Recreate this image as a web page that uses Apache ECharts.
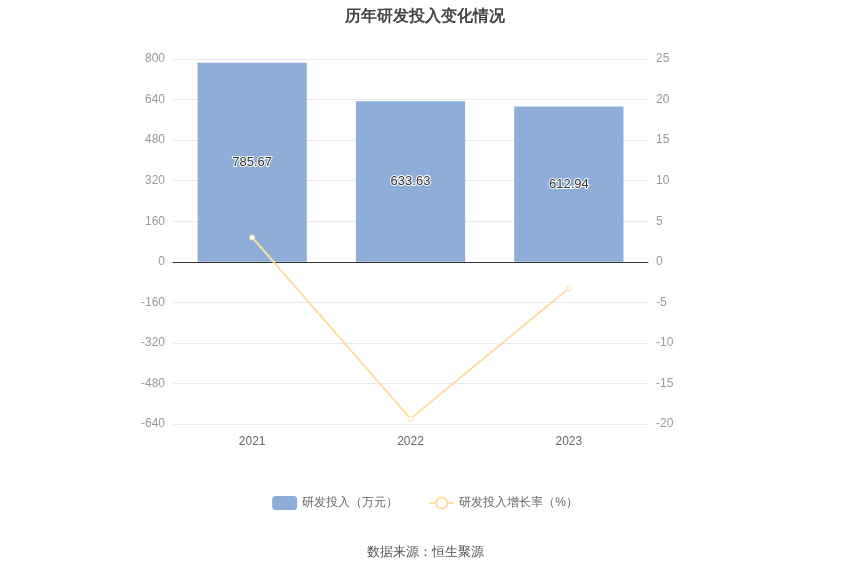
<!DOCTYPE html>
<html><head><meta charset="utf-8">
<script src="https://cdn.jsdelivr.net/npm/echarts@6/dist/echarts.min.js"></script>
<style>html,body{margin:0;padding:0}#c{width:850px;height:575px}</style>
</head><body><div id="c"></div>
<script>
const years = ['2021', '2022', '2023']
const rdSpend = [785.67, 633.63, 612.94]
const rdGrowth = [3.0, -19.35, -3.27]

const chart = echarts.init(document.getElementById('c'))
const axisLabel = { color: '#999', fontSize: 12 }
const splitLine = { lineStyle: { color: '#e8ebf2' } }
chart.setOption({
  animation: false,
  title: {
    text: '历年研发投入变化情况', left: 'center', top: 4,
    textStyle: { fontSize: 16, fontWeight: 'bold', color: '#444' },
  },
  grid: { left: 173, right: 202, top: 59, bottom: 151 },
  legend: {
    bottom: 60, itemGap: 30,
    textStyle: { color: '#666', fontSize: 12 },
    data: ['研发投入（万元）', '研发投入增长率（%）'],
  },
  graphic: [{
    type: 'text', left: 'center', top: 546,
    style: { text: '数据来源：恒生聚源', fill: '#555', fontSize: 13 },
  }],
  xAxis: {
    type: 'category', data: years,
    axisLine: { lineStyle: { color: '#333' } },
    axisTick: { lineStyle: { color: '#333' } },
    axisLabel: { color: '#666', fontSize: 12, margin: 12 },
    offset: -0,
  },
  yAxis: [
    { type: 'value', min: -640, max: 800, interval: 160, axisLabel, splitLine,
      axisLine: { show: false }, axisTick: { show: false } },
    { type: 'value', min: -20, max: 25, interval: 5, axisLabel, splitLine: { show: false },
      axisLine: { show: false }, axisTick: { show: false } },
  ],
  series: [
    { name: '研发投入（万元）', type: 'bar', data: rdSpend, barWidth: '69%',
      itemStyle: { color: '#8eadd9' },
      label: { show: true, position: 'inside', color: '#333', fontSize: 13,
        textBorderColor: '#fff', textBorderWidth: 2 } },
    { name: '研发投入增长率（%）', type: 'line', yAxisIndex: 1, data: rdGrowth,
      symbol: 'circle', symbolSize: 5,
      lineStyle: { color: '#fddfa4', width: 2 },
      itemStyle: { color: '#fff', borderColor: '#fddfa4', borderWidth: 1 } },
  ],
})
</script></body></html>
